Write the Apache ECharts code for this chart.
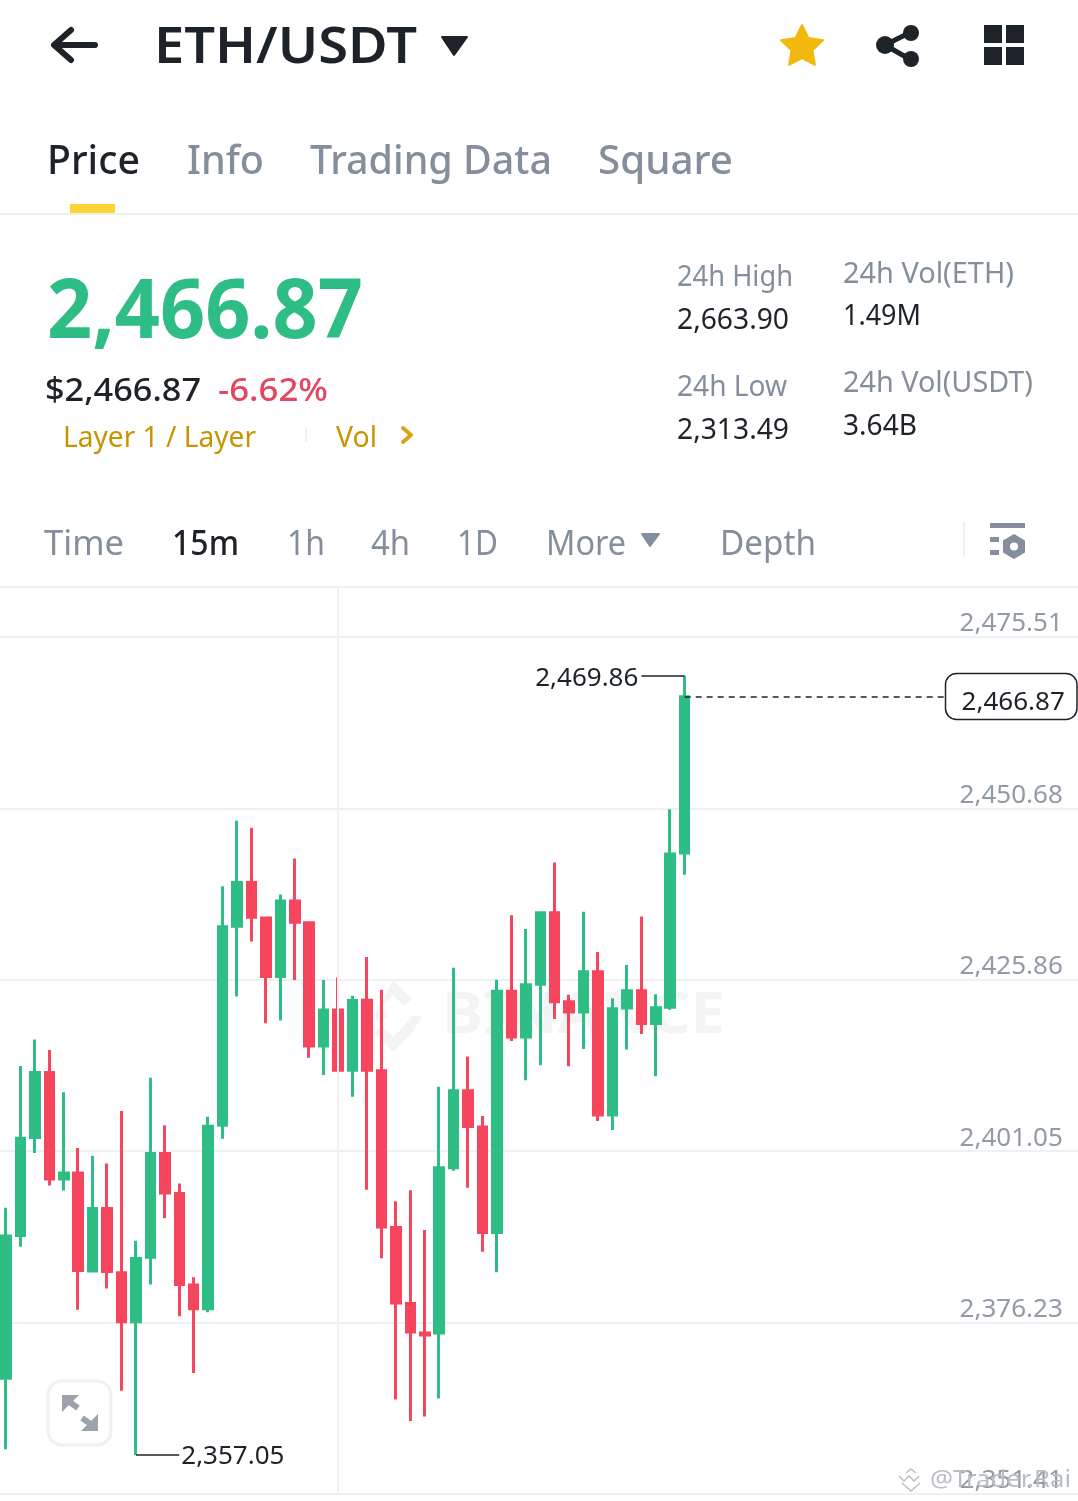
<!DOCTYPE html>
<html>
<head>
<meta charset="utf-8">
<title>ETH/USDT</title>
<script src="https://cdn.jsdelivr.net/npm/echarts@6/dist/echarts.min.js"></script>
<style>
html,body{margin:0;padding:0;background:#fff;}
#main{width:1078px;height:1501px;}
</style>
</head>
<body>
<div id="main"></div>
<script>
// 15m candles
var opens = [2368.18,2388.84,2403.04,2412.46,2397.01,2397.89,2383.69,2392.74,2383.44,2376.34,2385.70,2400.71,
	2394.94,2381.68,2378.23,2404.80,2433.62,2439.97,2434.82,2426.34,2437.27,2434.13,2416.29,2421.50,
	2412.77,2422.92,2412.69,2390.01,2378.99,2374.74,2374.74,2398.65,2409.81,2404.55,2389.28,2424.21,
	2417.59,2425.22,2435.59,2422.70,2421.19,2427.02,2406.28,2421.77,2424.29,2419.53,2421.91,2444.24];
var closes = [2388.78,2402.91,2412.46,2397.01,2397.89,2383.76,2392.74,2383.63,2376.34,2385.51,2400.71,2395.00,
	2381.75,2378.23,2404.67,2433.56,2439.97,2434.94,2426.34,2437.27,2434.19,2416.29,2421.50,2412.77,
	2422.88,2412.76,2390.08,2379.06,2374.88,2374.45,2398.65,2409.81,2404.63,2389.28,2424.21,2417.59,
	2425.15,2435.59,2422.70,2421.19,2427.02,2406.28,2421.69,2424.29,2419.53,2421.84,2444.09,2466.87];
var lows = [2357.88,2387.21,2400.78,2396.07,2395.37,2378.10,2383.57,2381.18,2366.36,2357.05,2381.75,2391.35,
	2377.16,2368.93,2377.73,2402.85,2423.45,2431.43,2419.56,2419.99,2425.84,2414.59,2412.08,2412.77,
	2408.94,2395.48,2385.54,2365.09,2361.99,2362.64,2365.23,2398.22,2395.77,2386.48,2383.52,2417.01,
	2411.32,2413.48,2420.18,2413.34,2415.86,2405.42,2404.12,2415.79,2418.02,2411.90,2421.55,2441.07];
var highs = [2392.86,2413.40,2417.23,2415.72,2409.57,2401.53,2400.40,2399.27,2406.87,2388.09,2411.70,2404.80,
	2396.38,2382.81,2406.05,2439.40,2448.89,2447.88,2434.94,2438.21,2443.42,2434.31,2425.84,2426.21,
	2423.57,2429.18,2424.43,2393.82,2395.41,2389.65,2410.39,2427.60,2414.78,2406.14,2425.87,2435.23,
	2433.22,2435.59,2442.87,2423.71,2435.74,2429.90,2423.21,2428.03,2435.02,2423.78,2450.57,2469.86];
var tickValues = [2351.41,2376.23,2401.05,2425.86,2450.68,2475.51];
var lastPrice = 2466.87;
var highPrice = 2469.86;
var lowPrice = 2357.05;

var GREEN = '#2EBD85', RED = '#F6465D', DARK = '#1E2329', GREY = '#848E9C', GOLD = '#C99400', LINE = '#EEF0F2';
var FONT = '"Noto Sans"';

var slots = [];
for (var i = 0; i < 75; i++) { slots.push(String(i)); }  // empty slots keep the right side free
var candles = opens.map(function(o, i) { return [o, closes[i], lows[i], highs[i]]; });

function money(v) {
	return v.toLocaleString('en-US', {minimumFractionDigits: 2, maximumFractionDigits: 2});
}

var measure = document.createElement('canvas').getContext('2d');
// text squeezed to run from x0 to x1, centred on y
function txt(x0, x1, y, text, size, color, weight) {
	var font = (weight || 400) + ' ' + size + 'px ' + FONT;
	measure.font = font;
	return {
		type: 'text', x: x0, y: y + 2.5, scaleX: (x1 - x0) / measure.measureText(text).width,
		style: {text: text, font: font, fill: color, textAlign: 'left', textVerticalAlign: 'middle'}
	};
}
function rect(x, y, w, h, fill, r) {
	return {type: 'rect', shape: {x: x, y: y, width: w, height: h, r: r || 0}, style: {fill: fill}};
}
function poly(points, fill) {
	return {type: 'polygon', shape: {points: points}, style: {fill: fill, stroke: fill, lineWidth: 2, lineJoin: 'round'}};
}
function stroke(points, color, width) {
	return {type: 'polyline', shape: {points: points}, style: {fill: null, stroke: color, lineWidth: width, lineJoin: 'round', lineCap: 'round'}};
}
function dot(cx, cy, r, fill) {
	return {type: 'circle', shape: {cx: cx, cy: cy, r: r}, style: {fill: fill}};
}
function star(cx, cy, r1, r2) {
	var pts = [];
	for (var i = 0; i < 10; i++) {
		var a = -Math.PI / 2 + i * Math.PI / 5, r = i % 2 ? r2 : r1;
		pts.push([cx + r * Math.cos(a), cy + r * Math.sin(a)]);
	}
	return pts;
}

var header = [
	stroke([[71,30],[54,45],[71,60]], DARK, 6), stroke([[55,45],[95,45]], DARK, 6),
	txt(154, 417, 46, 'ETH/USDT', 51, DARK, 600),
	poly([[442,37],[467,37],[454,55]], DARK),
	poly(star(802, 47, 22, 11), '#F0B90B'),
	stroke([[911,32],[885,45],[911,60]], DARK, 5), dot(885, 45, 9, DARK), dot(911, 33, 8, DARK), dot(911, 59, 8, DARK),
	rect(984, 25, 18, 18, DARK), rect(1006, 25, 18, 18, DARK), rect(984, 47, 18, 18, DARK), rect(1006, 47, 18, 18, DARK),

	txt(47, 140, 160, 'Price', 40, DARK, 500),
	txt(187, 264, 160, 'Info', 40, GREY, 500),
	txt(310, 552, 160, 'Trading Data', 40, GREY, 500),
	txt(598, 733, 160, 'Square', 40, GREY, 500),
	rect(70, 204, 45, 9, '#FCD535'),
	rect(0, 213, 1078, 2, LINE),

	txt(47, 363, 312, '2,466.87', 82, GREEN, 700),
	txt(45, 201, 389, '$2,466.87', 33, DARK, 500),
	txt(218, 328, 389, '-6.62%', 33, '#E2475F', 500),
	txt(63, 256, 436, 'Layer 1 / Layer', 29, GOLD),
	rect(305, 428, 2, 14, LINE),
	txt(336, 377, 436, 'Vol', 29, GOLD),
	stroke([[403,428],[411,435],[403,442]], '#D9A514', 4),

	txt(677, 793, 275, '24h High', 29, GREY),
	txt(677, 789, 318, '2,663.90', 29, DARK),
	txt(843, 1014, 272, '24h Vol(ETH)', 29, GREY),
	txt(843, 921, 314, '1.49M', 29, DARK),
	txt(677, 787, 385, '24h Low', 29, GREY),
	txt(677, 789, 428, '2,313.49', 29, DARK),
	txt(843, 1033, 381, '24h Vol(USDT)', 29, GREY),
	txt(843, 917, 424, '3.64B', 29, DARK),

	txt(44, 124, 543, 'Time', 35, GREY),
	txt(172, 239, 543, '15m', 35, DARK, 500),
	txt(287, 325, 543, '1h', 35, GREY),
	txt(371, 410, 543, '4h', 35, GREY),
	txt(457, 498, 543, '1D', 35, GREY),
	txt(546, 626, 543, 'More', 35, GREY),
	poly([[642,534],[659,534],[650,546]], GREY),
	txt(720, 816, 543, 'Depth', 35, GREY),
	rect(963, 522, 2, 35, LINE),
	rect(990, 523, 35, 5, GREY), rect(990, 537, 9, 5, GREY), rect(990, 550, 9, 5, GREY),
	poly([[1014,535],[1024,541],[1024,552],[1014,558],[1004,552],[1004,541]], GREY), dot(1014, 546.5, 4, '#fff'),
	rect(0, 586, 1078, 2, LINE),

	// exchange mark behind the candles
	{type: 'polygon', z: 0, shape: {points: [[393,980],[412,999],[404,1006],[393,995],[382,1006],[388,1016],[380,1024],[374,1016]]}, style: {fill: '#F3F4F5'}},
	{type: 'polygon', z: 0, shape: {points: [[393,1052],[374,1033],[382,1026],[393,1037],[404,1026],[412,1016],[422,1016],[412,1033]]}, style: {fill: '#F3F4F5'}},
	txt(442, 725, 1014, 'BINANCE', 58, '#F3F4F5', 700),

	// outline of the last price tag, its text comes from the markLine label
	{type: 'rect', z: 1, shape: {x: 945.5, y: 673.5, width: 131.5, height: 46, r: 11}, style: {fill: '#fff', stroke: DARK, lineWidth: 1.5}},

	// expand button
	{type: 'rect', z: 10, shape: {x: 48, y: 1381, width: 63, height: 64, r: 14}, style: {fill: '#fff', stroke: LINE, lineWidth: 3}},
	{type: 'polygon', z: 11, shape: {points: [[62,1395],[79,1395],[62,1412]]}, style: {fill: '#9CA3AE'}},
	{type: 'polygon', z: 11, shape: {points: [[98,1431],[81,1431],[98,1414]]}, style: {fill: '#9CA3AE'}},
	{type: 'polyline', z: 11, shape: {points: [[68,1401],[78,1408]]}, style: {fill: null, stroke: '#9CA3AE', lineWidth: 6}},
	{type: 'polyline', z: 11, shape: {points: [[82,1418],[92,1425]]}, style: {fill: null, stroke: '#9CA3AE', lineWidth: 6}}
];

// repost watermark in the corner
var stamp = [
	{type: 'polyline', z: 20, shape: {points: [[899,1476],[904,1481],[909,1476],[914,1481],[919,1476]]}, style: {fill: null, stroke: '#B9BEC5', lineWidth: 1.5}},
	{type: 'polyline', z: 20, shape: {points: [[902,1483],[911,1491],[920,1483]]}, style: {fill: null, stroke: '#B9BEC5', lineWidth: 1.5}},
	{type: 'polyline', z: 20, shape: {points: [[906,1473],[911,1469],[916,1473]]}, style: {fill: null, stroke: '#B9BEC5', lineWidth: 1.5}}
];
var stampText = txt(930, 1071, 1478, '@Trader.Rai', 24, '#B9BEC5');
stampText.z = 20;
stamp.push(stampText);

var myChart = echarts.init(document.getElementById('main'));

var option = {
	animation: false,
	backgroundColor: '#fff',
	grid: {left: -1.22, width: 1083, top: 587, height: 907, containLabel: false, outerBoundsMode: 'none'},
	xAxis: {
		type: 'category',
		data: slots,
		axisLine: {show: false},
		axisTick: {show: false},
		axisLabel: {show: false},
		splitLine: {show: false}
	},
	yAxis: {
		type: 'value',
		position: 'right',
		min: 2351.41,
		max: 2482.75,
		axisLine: {show: false},
		axisTick: {show: false, customValues: tickValues},
		splitLine: {show: true, lineStyle: {color: LINE, width: 2}},
		axisLabel: {
			inside: true,
			margin: 19,
			customValues: tickValues,
			showMinLabel: true,
			showMaxLabel: true,
			color: '#929AA5',
			fontFamily: FONT,
			fontSize: 26,
			align: 'right',
			verticalAlign: 'bottom',
			formatter: function(v) { return money(v); }
		}
	},
	series: [
		{
			name: 'grid line',
			type: 'line',
			z: 1,
			data: [],
			markLine: {
				silent: true,
				symbol: 'none',
				label: {show: false},
				lineStyle: {color: LINE, width: 2, type: 'solid'},
				data: [{xAxis: '23'}]
			}
		},
		{
			name: 'ETH/USDT',
			type: 'candlestick',
			z: 3,
			barWidth: 9,
			itemStyle: {
				color: GREEN, color0: RED,
				borderColor: GREEN, borderColor0: RED,
				borderWidth: 3
			},
			data: candles
		},
		{
			name: 'price marks',
			type: 'line',
			z: 4,
			data: [],
			markLine: {
				silent: true,
				symbol: 'none',
				data: [
					[
						{coord: ['47', highPrice], lineStyle: {color: DARK, width: 1.5, type: 'solid'},
							label: {show: true, position: 'end', distance: 1, offset: [-2, 3], color: DARK, fontFamily: FONT, fontSize: 26, formatter: money(highPrice)}},
						{coord: ['44', highPrice]}
					],
					[
						{coord: ['9', lowPrice], lineStyle: {color: DARK, width: 1.5, type: 'solid'},
							label: {show: true, position: 'end', distance: 1, offset: [1, 2], color: DARK, fontFamily: FONT, fontSize: 26, formatter: money(lowPrice)}},
						{coord: ['12', lowPrice]}
					],
					[
						{coord: ['47', lastPrice], lineStyle: {color: DARK, width: 1.5, type: [6, 5]},
							label: {show: true, position: 'end', distance: 17, offset: [0, 6], color: DARK, fontFamily: FONT, fontSize: 26, formatter: money(lastPrice)}},
						{coord: ['65', lastPrice]}
					]
				]
			}
		}
	],
	graphic: header.concat(stamp)
};

myChart.setOption(option);
</script>
</body>
</html>
